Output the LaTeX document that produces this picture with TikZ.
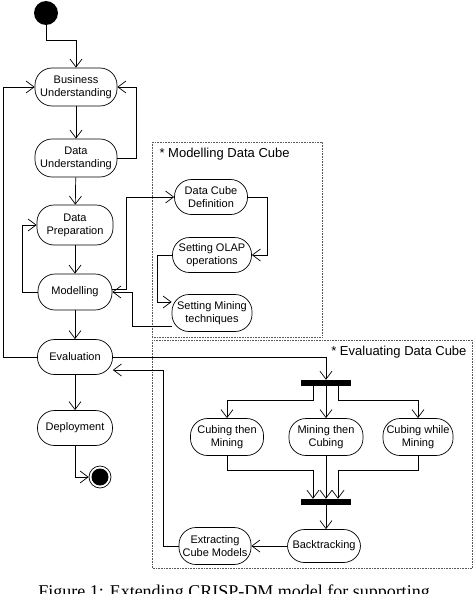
\documentclass[tikz,border=0pt]{standalone}
\usepackage{fontspec}
\setmainfont{Liberation Sans}
\newfontfamily\capfont{Liberation Serif}
\usetikzlibrary{arrows.meta}
\tikzset{
  act/.style={draw, line width=0.7pt, rounded corners=17pt, align=center,
    minimum width=74pt, minimum height=36pt, inner sep=1pt,
    font=\fontsize{11}{13}\selectfont},
  bar/.style={fill=black, minimum width=50pt, minimum height=6pt, inner sep=0pt},
  flow/.style={line width=0.7pt, -{Straight Barb[length=8pt,width=12pt,line width=0.7pt]}},
  group/.style={line width=0.6pt, densely dotted, gray!70!black},
  grouplabel/.style={font=\fontsize{13}{15}\selectfont}
}

\begin{document}
\begin{tikzpicture}[x=1pt,y=-1pt]
  \useasboundingbox (0,0) rectangle (474,594);
  \node[circle, fill=black, minimum size=24pt, inner sep=0pt] (start) at (46,13) {};
  \node[act, minimum width=82pt, minimum height=38pt] (bu) at (76,87) {Business\\Understanding};
  \node[act, minimum width=82pt, minimum height=38pt] (du) at (76,158) {Data\\Understanding};
  \node[act, minimum width=76pt, minimum height=40pt] (dp) at (75,225) {Data\\Preparation};
  \node[act] (mod) at (75,292) {Modelling};
  \node[act, minimum width=75pt, minimum height=35pt] (eval) at (75,357) {Evaluation};
  \node[act, minimum width=75pt, minimum height=35pt] (dep) at (75,428) {Deployment};
  \node[circle, draw, line width=0.7pt, minimum size=22pt, inner sep=0pt,
    path picture={\fill (path picture bounding box.center) circle (8.5pt);}] (end) at (100,477) {};

  \draw[group] (152,142) rectangle (322,337);
  \node[grouplabel, anchor=west] (mdc) at (156,154) {* Modelling Data Cube};
  \node[act, minimum width=73pt, minimum height=35pt] (dcd) at (211,197) {Data Cube\\Definition};
  \node[act, minimum width=79pt, minimum height=35pt] (olap) at (212,255) {Setting OLAP\\operations};
  \node[act, minimum width=80pt, minimum height=37pt] (smt) at (212,313) {Setting Mining\\techniques};

  \draw[group] (152,340) rectangle (472.5,568);
  \node[grouplabel, anchor=east] (edc) at (470,352) {* Evaluating Data Cube};
  \node[bar] (fork) at (326,383) {};
  \node[act, minimum width=73pt, minimum height=37pt] (ctm) at (227,437) {Cubing then\\Mining};
  \node[act, minimum width=74pt, minimum height=37pt] (mtc) at (326,437) {Mining then\\Cubing};
  \node[act, minimum width=70pt, minimum height=37pt] (cwm) at (418,437) {Cubing while\\Mining};
  \node[bar] (join) at (326,502) {};
  \node[act, minimum width=73pt, minimum height=33pt] (back) at (324,546) {Backtracking};
  \node[act, minimum width=72pt, minimum height=37pt] (ecm) at (215,546) {Extracting\\Cube Models};

  \draw[flow] (start.south) -- ++(0,15) -| (bu.north);
  \draw[flow] (bu) -- (du);
  \draw[flow] (du.east) -- ++(19,0) |- (bu.east);
  \draw[flow] (du) -- (dp);
  \draw[flow] (dp) -- (mod);
  \draw[flow] (mod.west) -- ++(-15,0) |- (dp.west);
  \draw[flow] (mod) -- (eval);
  \draw[flow] (eval.west) -- ++(-34,0) |- (bu.west);
  \draw[flow] (eval) -- (dep);
  \draw[flow] (dep.south) |- (end.west);

  \draw[flow] ([yshift=3pt]mod.east) -- ++(14,0) |- (dcd.west);
  \draw[flow] (dcd.east) -- ++(19,0) |- (olap.east);
  \draw[flow] (olap.west) -- ++(-15,0) |- ([yshift=11pt]smt.west);
  \draw[flow] ([yshift=-13pt]smt.west) -- ++(-39,0) |- (mod.east);

  \draw[flow] (eval.east) -| (fork.north);
  \draw[flow] ([xshift=-13pt]fork.south) -- ++(0,14) -| (ctm.north);
  \draw[flow] (fork.south) -- (mtc.north);
  \draw[flow] ([xshift=12pt]fork.south) -- ++(0,14) -| (cwm.north);
  \draw[flow] (ctm.south) -- ++(0,14) -| ([xshift=-13pt]join.north);
  \draw[flow] (mtc.south) -- (join.north);
  \draw[flow] (cwm.south) -- ++(0,14) -| ([xshift=12pt]join.north);
  \draw[flow] (join.south) -- (join.south |- back.north);
  \draw[flow] (back) -- (ecm);
  \draw[flow] (ecm.west) -- ++(-15,0) |- ([yshift=-13pt]eval.east);

  \node[anchor=base, font=\capfont\fontsize{18}{20}\selectfont] (cap) at (234,597)
    {Figure 1: Extending CRISP-DM model for supporting};
\end{tikzpicture}
\end{document}
